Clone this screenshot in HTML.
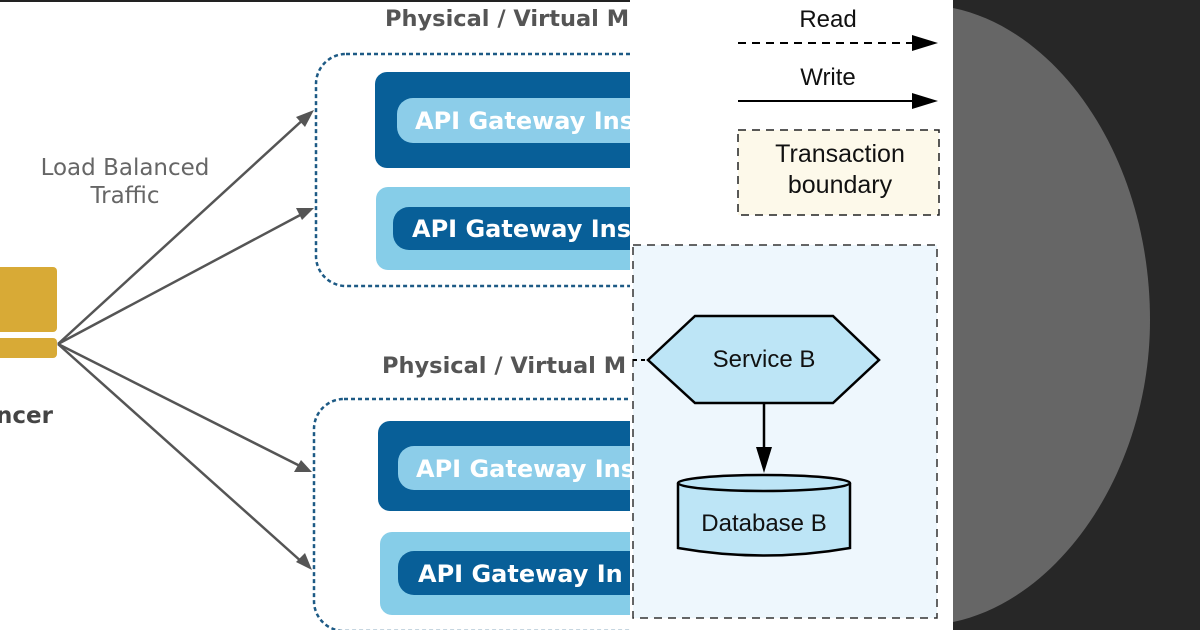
<!DOCTYPE html>
<html><head><meta charset="utf-8"><style>
html,body{margin:0;padding:0;width:1200px;height:630px;overflow:hidden;background:#fff}
svg{display:block}
</style></head><body>
<svg width="1200" height="630" viewBox="0 0 1200 630" xmlns="http://www.w3.org/2000/svg">
<rect x="0" y="0" width="630" height="630" fill="#fff"/>
<line x1="0" y1="1" x2="630" y2="1" stroke="#222" stroke-width="2"/>
<g font-family="'DejaVu Sans','Liberation Sans',sans-serif" font-weight="bold">
<text x="385" y="26" font-size="22.5" fill="#555">Physical / Virtual M</text>
<text x="382" y="373" font-size="22.5" fill="#555">Physical / Virtual M</text>
</g>
<rect x="316" y="54" width="360" height="232" rx="30" fill="none" stroke="#1d5a85" stroke-width="2.5" stroke-dasharray="4,3"/>
<rect x="314" y="399" width="360" height="232" rx="30" fill="none" stroke="#1d5a85" stroke-width="2.5" stroke-dasharray="4,3"/>
<rect x="375" y="72" width="300" height="96" rx="12" fill="#085f98"/>
<rect x="397" y="98" width="280" height="45" rx="16" fill="#8ccde9"/>
<rect x="376" y="187" width="300" height="83" rx="12" fill="#86cde8"/>
<rect x="393" y="207" width="280" height="43" rx="16" fill="#085f98"/>
<rect x="378" y="421" width="300" height="90" rx="12" fill="#085f98"/>
<rect x="398" y="446" width="280" height="44" rx="16" fill="#8ccde9"/>
<rect x="380" y="532" width="300" height="83" rx="12" fill="#86cde8"/>
<rect x="398" y="551" width="280" height="44" rx="16" fill="#085f98"/>
<g font-family="'DejaVu Sans','Liberation Sans',sans-serif" font-weight="bold" font-size="24" fill="#fff">
<text x="415" y="129">API Gateway Ins</text>
<text x="412" y="237">API Gateway Ins</text>
<text x="416" y="477">API Gateway Ins</text>
<text x="418" y="582">API Gateway In</text>
</g>
<g font-family="'DejaVu Sans','Liberation Sans',sans-serif" font-size="23" fill="#666" text-anchor="middle">
<text x="125" y="175">Load Balanced</text>
<text x="125" y="203">Traffic</text>
</g>
<rect x="-10" y="267" width="67" height="65" rx="4" fill="#d8aa36"/>
<rect x="-10" y="338" width="67" height="20" rx="4" fill="#d8aa36"/>
<text x="-4" y="423" font-family="'DejaVu Sans','Liberation Sans',sans-serif" font-weight="bold" font-size="23" fill="#444">ncer</text>
<g stroke="#555" stroke-width="2.5" fill="none">
<line x1="58" y1="344" x2="306" y2="117"/>
<line x1="58" y1="344" x2="304" y2="213"/>
<line x1="58" y1="344" x2="302" y2="467"/>
<line x1="58" y1="344" x2="303" y2="563"/>
</g>
<g fill="#555">
<polygon points="314,110 296,117 305,127"/>
<polygon points="314,208 296,208 302,220"/>
<polygon points="312,472 294,472 301,460"/>
<polygon points="312,570 296,562 305,553"/>
</g>
<rect x="630" y="0" width="323" height="630" fill="#fff"/>
<g font-family="'Liberation Sans',sans-serif" font-size="24" fill="#111" text-anchor="middle">
<text x="828" y="27">Read</text>
<text x="828" y="85">Write</text>
</g>
<line x1="738" y1="43" x2="912" y2="43" stroke="#000" stroke-width="2" stroke-dasharray="8,6"/>
<polygon points="938,43 912,35 912,51" fill="#000"/>
<line x1="738" y1="101" x2="912" y2="101" stroke="#000" stroke-width="2"/>
<polygon points="938,101 912,93 912,109" fill="#000"/>
<rect x="738" y="130" width="201" height="85" fill="#fdf9ea" stroke="#222" stroke-width="1.5" stroke-dasharray="8,6"/>
<g font-family="'Liberation Sans',sans-serif" font-size="25" fill="#111" text-anchor="middle">
<text x="840" y="162">Transaction</text>
<text x="840" y="193">boundary</text>
</g>
<rect x="633" y="245" width="304" height="373" fill="#eef7fd" stroke="#333" stroke-width="1.5" stroke-dasharray="8,6"/>
<line x1="633" y1="360" x2="648" y2="360" stroke="#000" stroke-width="2" stroke-dasharray="4,4"/>
<polygon points="648,360 695,316 833,316 879,360 833,403 695,403" fill="#bde5f6" stroke="#000" stroke-width="2.5"/>
<text x="764" y="367" font-family="'Liberation Sans',sans-serif" font-size="24" fill="#111" text-anchor="middle">Service B</text>
<line x1="764" y1="403" x2="764" y2="455" stroke="#000" stroke-width="2.5"/>
<polygon points="764,473 756,447 772,447" fill="#000"/>
<path d="M678,483 L678,548 Q764,563 850,548 L850,483" fill="#bde5f6" stroke="#000" stroke-width="2.5"/>
<ellipse cx="764" cy="483" rx="86" ry="8" fill="#bde5f6" stroke="#000" stroke-width="2.5"/>
<text x="764" y="531" font-family="'Liberation Sans',sans-serif" font-size="24" fill="#111" text-anchor="middle">Database B</text>
<rect x="953" y="0" width="247" height="630" fill="#272727"/>
<path d="M953,8 C1060,30 1150,160 1150,320 C1150,470 1060,600 953,622 Z" fill="#666"/>
</svg>
</body></html>
